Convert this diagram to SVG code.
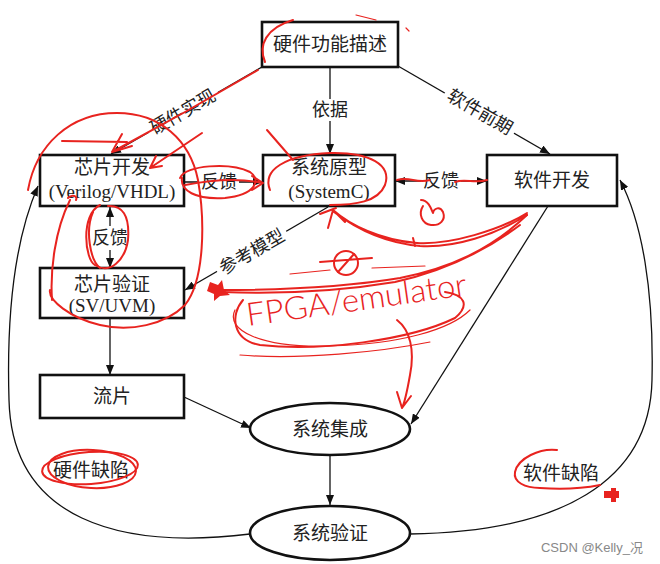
<svg xmlns="http://www.w3.org/2000/svg" width="660" height="564" viewBox="0 0 660 564">
<defs>
<marker id="ah" viewBox="0 0 10 8" refX="10" refY="4" markerWidth="10" markerHeight="8" markerUnits="userSpaceOnUse" orient="auto-start-reverse">
<path d="M0,0 L10,4 L0,8 z" fill="#111"/>
</marker>
<style>
.box{fill:#fff;stroke:#111;stroke-width:2.6}
.ell{fill:#fff;stroke:#111;stroke-width:2.6}
.t{font-family:"Liberation Serif","Noto Sans CJK SC",serif;font-size:19px;fill:#222;text-anchor:middle}
.lbl{font-family:"Liberation Serif","Noto Sans CJK SC",serif;font-size:18px;fill:#222;text-anchor:middle}
.c{fill:none;stroke:#111;stroke-width:1.3}
.ca{fill:none;stroke:#111;stroke-width:1.3;marker-end:url(#ah)}
.cb{fill:none;stroke:#111;stroke-width:1.3;marker-end:url(#ah);marker-start:url(#ah)}
.bg{fill:#fff}
.r{fill:none;stroke:#e8231f;stroke-width:2;stroke-linecap:round;stroke-linejoin:round}
.rt{fill:none;stroke:#e8231f;stroke-width:1.2;stroke-linecap:round}
</style>
</defs>
<rect width="660" height="564" fill="#fff"/>

<g id="connectors">
<line class="ca" x1="262" y1="67" x2="111" y2="154"/>
<line class="ca" x1="330" y1="67" x2="330" y2="154"/>
<line class="ca" x1="398" y1="66" x2="550" y2="154"/>
<line class="ca" x1="184" y1="182" x2="263" y2="182"/>
<line class="cb" x1="395" y1="181" x2="487" y2="181"/>
<line class="cb" x1="110" y1="207" x2="110" y2="268"/>
<line class="ca" x1="328" y1="207" x2="185" y2="290"/>
<line class="ca" x1="110" y1="318" x2="110" y2="375"/>
<line class="ca" x1="184" y1="397" x2="251" y2="428"/>
<line class="ca" x1="548" y1="206" x2="411" y2="424"/>
<line class="ca" x1="330" y1="455" x2="330" y2="505"/>
<path class="ca" d="M250,534 C120,550 12,520 9,400 C6,300 18,232 38,186"/>
<path class="ca" d="M410,534 C560,532 650,482 652,380 C654,290 642,222 620,180"/>
<!-- labels -->
<g transform="translate(183,112) rotate(-29.8)"><rect class="bg" x="-40" y="-11" width="80" height="22"/><text class="lbl" x="0" y="6">硬件实现</text></g>
<rect class="bg" x="310" y="99" width="40" height="22"/><text class="lbl" x="330" y="116">依据</text>
<g transform="translate(480,112) rotate(30)"><rect class="bg" x="-40" y="-11" width="80" height="22"/><text class="lbl" x="0" y="6">软件前期</text></g>
<rect class="bg" x="199" y="171" width="40" height="22"/><text class="lbl" x="219" y="188">反馈</text>
<rect class="bg" x="421" y="170" width="40" height="22"/><text class="lbl" x="441" y="187">反馈</text>
<rect class="bg" x="92" y="226" width="38" height="24"/><text class="lbl" x="110" y="244">反馈</text>
<g transform="translate(252,252) rotate(-30)"><rect class="bg" x="-40" y="-11" width="80" height="22"/><text class="lbl" x="0" y="6">参考模型</text></g>
</g>

<g id="n-hwdesc"><rect class="box" x="262" y="22" width="136" height="45"/><text class="t" x="330" y="51">硬件功能描述</text></g>
<g id="n-chipdev"><rect class="box" x="40" y="155" width="144" height="51"/><text class="t" x="112" y="174">芯片开发</text><text class="t" x="112" y="198">(Verilog/VHDL)</text></g>
<g id="n-proto"><rect class="box" x="263" y="155" width="132" height="51"/><text class="t" x="329" y="174">系统原型</text><text class="t" x="329" y="198">(SystemC)</text></g>
<g id="n-swdev"><rect class="box" x="487" y="155" width="130" height="51"/><text class="t" x="552" y="187">软件开发</text></g>
<g id="n-chipver"><rect class="box" x="40" y="268" width="144" height="50"/><text class="t" x="112" y="291">芯片验证</text><text class="t" x="112" y="312">(SV/UVM)</text></g>
<g id="n-tapeout"><rect class="box" x="40" y="375" width="144" height="43"/><text class="t" x="112" y="403">流片</text></g>
<g id="n-integ"><ellipse class="ell" cx="330" cy="429" rx="80" ry="26"/><text class="t" x="330" y="436">系统集成</text></g>
<g id="n-sysver"><ellipse class="ell" cx="330" cy="533" rx="80" ry="27"/><text class="t" x="330" y="540">系统验证</text></g>
<g id="n-hwbug"><text class="t" x="91" y="477">硬件缺陷</text></g>
<g id="n-swbug"><text class="t" x="561" y="480">软件缺陷</text></g>

<g id="annotations">
<path class="r" d="M265,62 C258,45 266,28 293,20"/>
<path class="rt" d="M356,15 L376,20 M406,28 L409,31"/>
<path class="r" d="M258,70 L185,112 L114,151 M62,141 L127,142 M112,152 L122,134 M112,152 L132,146"/>
<path class="r" d="M28,190 C36,145 70,113 117,113 C160,113 190,140 198,180 C205,220 205,280 185,305 C165,325 130,332 100,325 C70,318 48,300 50,290"/>
<path class="r" d="M202,133 L150,168 M150,168 L156,156 M150,168 L162,166"/>
<path class="r" d="M180,178 C185,165 230,162 250,172 C262,180 255,195 225,198 C195,200 180,190 182,178"/>
<path class="r" d="M185,185 C210,180 240,178 263,183 M263,183 L252,176 M263,183 L252,190"/>
<path class="r" d="M100,205 C80,215 85,260 95,265 C110,275 125,260 128,240 C130,215 122,205 108,206"/>
<path class="r" d="M93,212 C85,230 90,260 100,268"/>
<path class="r" d="M68,198 C72,194 78,196 76,200 M70,200 C55,230 50,270 52,300"/>
<path class="r" d="M267,130 L293,160 M270,190 C262,170 285,155 330,153 C370,152 392,165 385,185 C378,202 355,205 330,205"/>
<path class="r" d="M397,180 C410,176 416,184 430,180 M455,182 C465,178 475,184 487,180"/>
<path class="r" d="M527,213 C500,230 450,245 417,243 C380,240 350,225 333,210 M527,215 C495,235 455,248 420,246 C385,243 355,228 334,212 M333,210 L328,228 M333,210 L345,222 M336,208 L320,214"/>
<path class="r" d="M423,206 C418,214 422,224 431,225 C440,226 446,220 443,212 C440,206 434,208 433,213 C431,208 428,200 421,200 M415,246 L413,238"/>
<path class="r" d="M527,215 C490,250 450,268 400,278 C340,288 280,290 220,290 M520,225 C480,255 440,272 395,282 C335,292 275,294 222,292"/>
<path fill="#e8231f" d="M210,282 L218,285 L222,280 L224,290 L230,295 L220,296 L214,301 L214,294 L207,291 z"/>
<circle class="r" cx="346" cy="263" r="12"/>
<path class="r" d="M338,272 L354,254 M320,262 L372,258"/>
<path class="rt" d="M290,274 L330,270 M372,268 L425,266"/>
<text x="248" y="326" transform="rotate(-8 248 326)" font-family="Lato, 'Open Sans', sans-serif" font-weight="300" font-size="32" fill="#e8231f" textLength="222" lengthAdjust="spacingAndGlyphs">FPGA/emulator</text>
<path class="r" d="M243,300 C230,315 232,340 260,345 C320,352 410,340 455,318 C470,305 465,295 445,292"/>
<path class="rt" d="M235,310 C225,330 260,348 330,346 C400,344 450,330 470,310 M240,355 C300,360 380,352 430,342"/>
<path class="r" d="M397,320 C410,330 415,350 410,375 C407,392 405,402 402,408 M402,408 L397,392 M402,408 L411,396"/>
<ellipse class="r" cx="90" cy="468" rx="48" ry="16" transform="rotate(-4 90 468)"/>
<ellipse class="r" cx="92" cy="469" rx="44" ry="19" transform="rotate(3 92 469)"/>
<path class="r" d="M557,450 C540,448 518,458 515,472 C513,482 525,488 540,488 C565,490 585,488 600,485"/>
<path fill="#e8231f" d="M604,491 h7 v-3 h5 v3 h3 v7 h-3 v4 h-5 v-4 h-7 z"/>
</g>

<text x="643" y="552" font-family="Liberation Sans, 'Noto Sans CJK SC', sans-serif" font-size="13" fill="#888" text-anchor="end">CSDN @Kelly_况</text>
</svg>
